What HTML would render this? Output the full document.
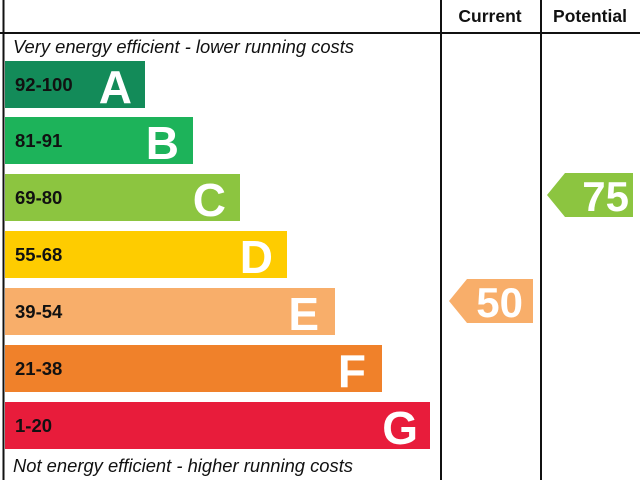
<!DOCTYPE html>
<html><head><style>body{margin:0;background:#fff}svg{display:block}</style></head><body>
<svg width="640" height="480" xmlns="http://www.w3.org/2000/svg" font-family="Liberation Sans, Arial, sans-serif">
<rect width="640" height="480" fill="#fff"/>
<line x1="3.5" y1="0" x2="3.5" y2="480" stroke="#111" stroke-width="2"/>
<line x1="441" y1="0" x2="441" y2="480" stroke="#111" stroke-width="2"/>
<line x1="541" y1="0" x2="541" y2="480" stroke="#111" stroke-width="2"/>
<line x1="0" y1="33" x2="640" y2="33" stroke="#111" stroke-width="2"/>
<text x="490" y="22" font-size="17.5" font-weight="bold" text-anchor="middle" fill="#111">Current</text>
<text x="590" y="22" font-size="17.5" font-weight="bold" text-anchor="middle" fill="#111">Potential</text>
<text x="13" y="53" font-size="18" font-style="italic" fill="#111" textLength="341" lengthAdjust="spacingAndGlyphs">Very energy efficient - lower running costs</text>
<text x="13" y="472" font-size="18" font-style="italic" fill="#111" textLength="340" lengthAdjust="spacingAndGlyphs">Not energy efficient - higher running costs</text>
<g font-weight="bold">
<rect x="5" y="61" width="140" height="47" fill="#138b59"/>
<text x="15" y="91" font-size="18.5" fill="#111">92-100</text><text x="132" y="103" font-size="46" fill="#fff" text-anchor="end">A</text>
<rect x="5" y="117" width="188" height="47" fill="#1db35a"/>
<text x="15" y="147" font-size="18.5" fill="#111">81-91</text><text x="179" y="159" font-size="46" fill="#fff" text-anchor="end">B</text>
<rect x="5" y="174" width="235" height="47" fill="#8cc540"/>
<text x="15" y="204" font-size="18.5" fill="#111">69-80</text><text x="226" y="216" font-size="46" fill="#fff" text-anchor="end">C</text>
<rect x="5" y="231" width="282" height="47" fill="#fecc00"/>
<text x="15" y="261" font-size="18.5" fill="#111">55-68</text><text x="273" y="273" font-size="46" fill="#fff" text-anchor="end">D</text>
<rect x="5" y="288" width="330" height="47" fill="#f8ae6a"/>
<text x="15" y="318" font-size="18.5" fill="#111">39-54</text><text x="319" y="330" font-size="46" fill="#fff" text-anchor="end">E</text>
<rect x="5" y="345" width="377" height="47" fill="#f0812a"/>
<text x="15" y="375" font-size="18.5" fill="#111">21-38</text><text x="366" y="387" font-size="46" fill="#fff" text-anchor="end">F</text>
<rect x="5" y="402" width="425" height="47" fill="#e81c3b"/>
<text x="15" y="432" font-size="18.5" fill="#111">1-20</text><text x="418" y="444" font-size="46" fill="#fff" text-anchor="end">G</text>
</g>
<g font-weight="bold">
<polygon points="449,301 467,279 533,279 533,323 467,323" fill="#f8ae6a"/>
<text x="523" y="317" font-size="42" fill="#fff" text-anchor="end">50</text>
<polygon points="547,195 565,173 633,173 633,217 565,217" fill="#8cc540"/>
<text x="629" y="211" font-size="42" fill="#fff" text-anchor="end">75</text>
</g>
</svg>
</body></html>
